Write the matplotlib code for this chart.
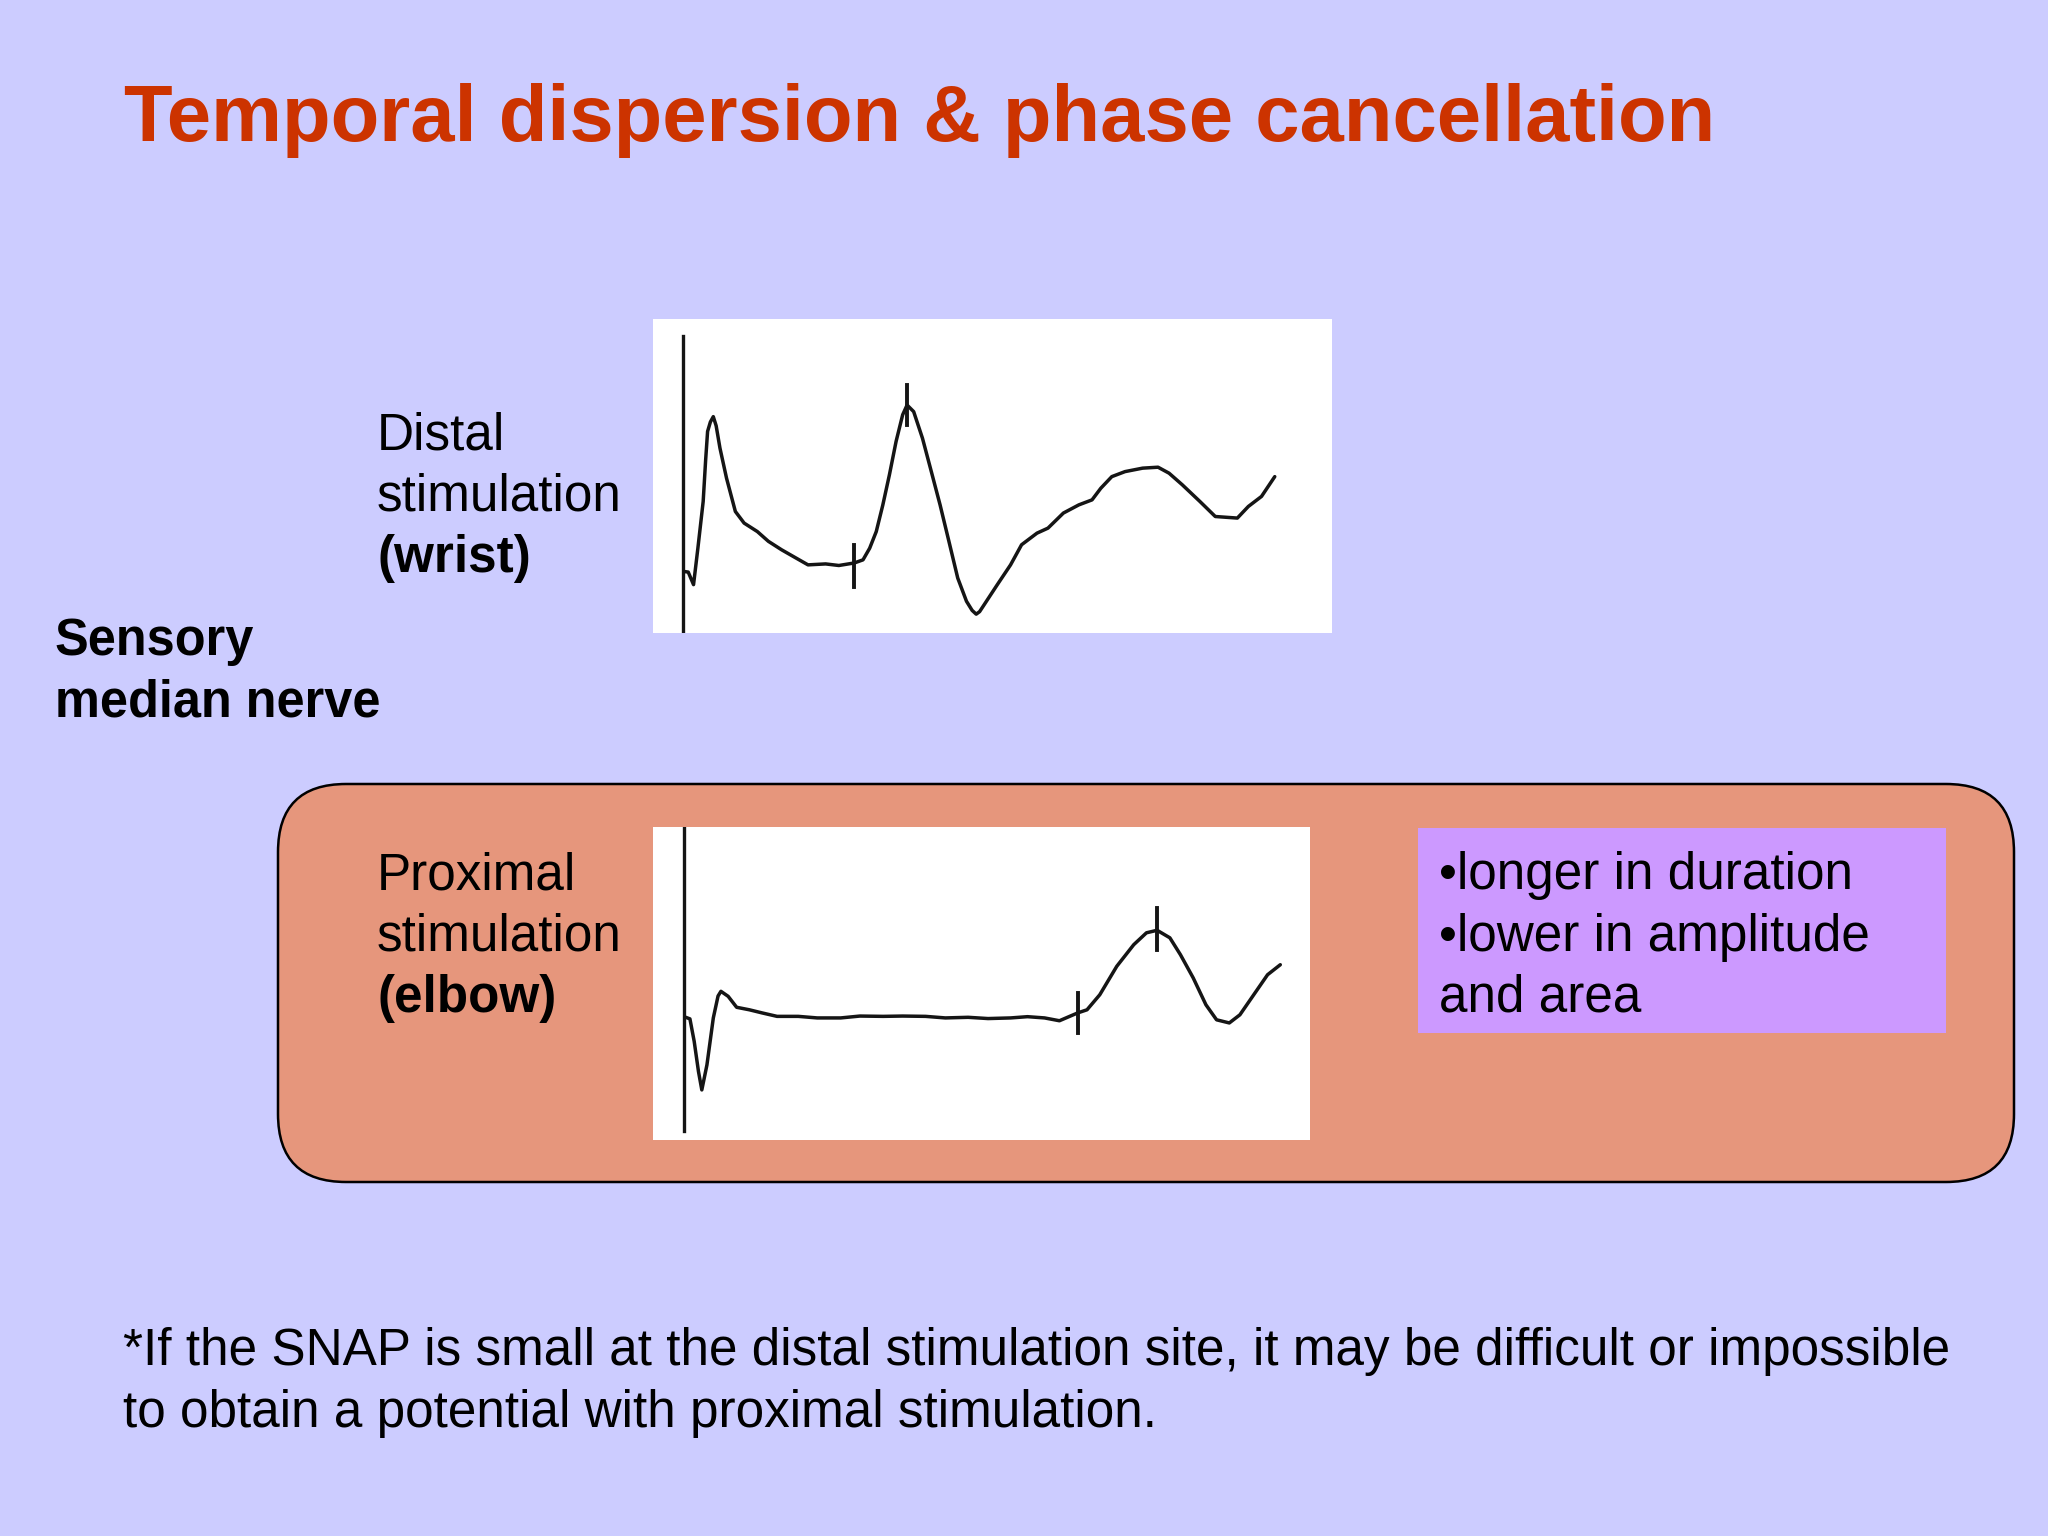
import numpy as np
import matplotlib.pyplot as plt
from matplotlib.patches import FancyBboxPatch, Rectangle

plt.rcParams['font.family'] = ['Liberation Sans', 'DejaVu Sans']

W, H = 2048, 1536

# distal (wrist) trace, panel units 0-100
distal_x = [4.54, 5.19, 5.97, 6.61, 7.39, 7.75, 8.04, 8.45, 8.88, 9.30, 9.86, 10.83, 12.13, 13.42, 15.37,
            16.99, 18.94, 20.88, 22.83, 25.42, 27.37, 29.64, 30.93, 31.91, 32.88, 33.85,
            34.82, 35.80, 36.77, 37.42, 38.39, 39.69, 40.99, 42.28, 43.58, 44.88, 46.17,
            47.00, 47.60, 48.10, 48.77, 50.71, 52.66, 54.28, 56.55, 58.17, 60.44, 62.71, 64.66, 65.95,
            67.57, 69.52, 72.11, 74.38, 76.00, 77.95, 80.54, 82.81, 86.06, 87.68, 89.62, 91.57]
distal_y = [19.6, 19.4, 15.4, 27.0, 41.9, 55.0, 64.2, 67.2, 68.9, 66.0, 58.9, 49.3, 38.7, 35.0, 32.3,
            29.2, 26.5, 24.1, 21.7, 22.0, 21.5, 22.3, 23.3, 27.0, 32.3, 40.8,
            50.4, 61.0, 69.5, 72.6, 70.5, 62.0, 51.4, 40.8, 29.2, 17.5, 10.1,
            7.2, 6.0, 6.8, 9.0, 15.4, 21.7, 28.1, 31.8, 33.4, 38.2, 40.8, 42.4, 46.1,
            49.8, 51.4, 52.5, 52.8, 50.9, 47.2, 41.9, 37.1, 36.6, 40.3, 43.5, 49.8]
distal_stim = (4.35, 0.0, 94.7)
distal_marks = [(29.64, 14.8, 27.9), (37.42, 66.3, 79.0)]

# proximal (elbow) trace
prox_x = [4.98, 5.62, 6.27, 6.92, 7.43, 8.21, 9.18, 9.90, 10.34, 11.44, 12.73, 14.67, 16.61,
          18.88, 22.11, 25.0, 28.57, 31.5, 35.03, 38.0, 41.49, 44.5, 47.96, 51.0, 54.43,
          57.0, 59.60, 61.86, 64.64, 66.06, 68.00, 70.59, 73.17, 75.11, 76.73, 78.67,
          80.28, 82.22, 84.16, 85.78, 87.72, 89.33, 91.27, 93.54, 95.48]
prox_y = [39.2, 38.7, 31.5, 21.9, 16.0, 24.0, 39.0, 46.0, 47.5, 45.9, 42.4, 41.6, 40.6,
          39.5, 39.5, 39.0, 39.0, 39.6, 39.5, 39.6, 39.5, 39.0, 39.2, 38.8, 39.0,
          39.4, 39.0, 38.1, 40.6, 41.6, 46.4, 55.5, 62.4, 66.2, 67.0, 64.6,
          59.2, 51.8, 43.2, 38.4, 37.4, 40.0, 45.9, 52.8, 56.0]
prox_stim = (4.78, 2.9, 100.0)
prox_marks = [(64.64, 34.2, 47.0), (76.73, 60.8, 74.2)]

bullets = ['•longer in duration', '•lower in amplitude', 'and area']
footnote = ['*If the SNAP is small at the distal stimulation site, it may be difficult or impossible',
            'to obtain a potential with proximal stimulation.']

bg = '#CCCCFF'
fig = plt.figure(figsize=(20.48, 15.36), dpi=100, facecolor=bg)
ax = fig.add_axes([0, 0, 1, 1])
ax.set_xlim(0, W)
ax.set_ylim(H, 0)
ax.axis('off')

# rounded orange box and purple note box
ax.add_patch(FancyBboxPatch((278, 784), 1736, 398, boxstyle='round,pad=0,rounding_size=68',
                            facecolor='#E6967C', edgecolor='black', linewidth=1.8))
ax.add_patch(Rectangle((1418, 828), 528, 205, facecolor='#CC99FF', edgecolor='none'))

ax.text(124, 141, 'Temporal dispersion & phase cancellation', fontsize=57.3,
        fontweight='bold', color='#CC3300', va='baseline')

fs = 36.9
def label(x, y0, lines, bold_last=False, bold=False, size=fs):
    for i, t in enumerate(lines):
        w = 'bold' if bold or (bold_last and i == len(lines) - 1) else 'normal'
        ax.text(x, y0 + i * 61.5, t, fontsize=size, fontweight=w, va='baseline', color='black')

label(377, 449, ['Distal', 'stimulation', '(wrist)'], bold_last=True)
label(377, 889, ['Proximal', 'stimulation', '(elbow)'], bold_last=True)
label(55, 655, ['Sensory', 'median nerve'], bold=True, size=36.4)
label(1439, 889, bullets)
label(123, 1365, footnote)


def panel(rect, xs, ys, stim, marks):
    x0, y0, w, h = rect
    pa = fig.add_axes([x0 / W, 1 - (y0 + h) / H, w / W, h / H])
    pa.set_facecolor('white')
    pa.set_xlim(0, 100)
    pa.set_ylim(0, 100)
    pa.set_xticks([])
    pa.set_yticks([])
    for s in pa.spines.values():
        s.set_visible(False)
    pa.plot(xs, ys, color='#151515', lw=2.5, solid_joinstyle='round', solid_capstyle='round')
    pa.plot([stim[0], stim[0]], [stim[1], stim[2]], color='#151515', lw=2.4)
    for mx, a, b in marks:
        pa.plot([mx, mx], [a, b], color='#151515', lw=2.8)
    return pa

panel((653, 319, 679, 314), distal_x, distal_y, distal_stim, distal_marks)
panel((653, 827, 657, 313), prox_x, prox_y, prox_stim, prox_marks)

fig.savefig('out.png', dpi=100, facecolor=bg)
